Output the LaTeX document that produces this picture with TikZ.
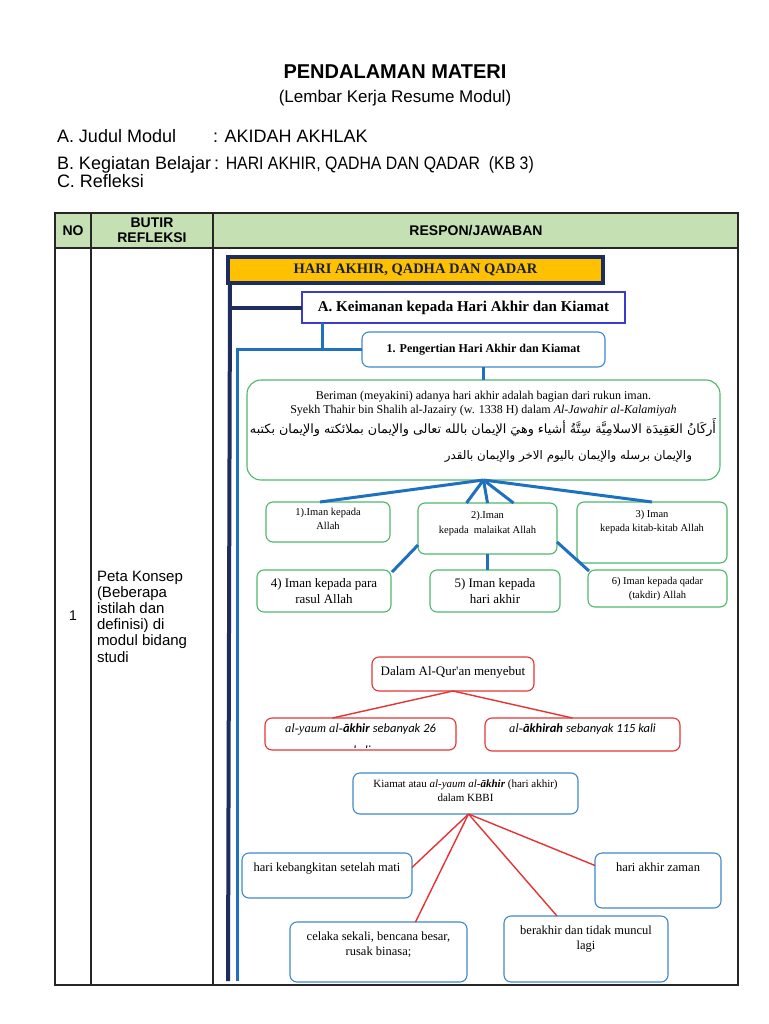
\documentclass[tikz,border=0pt]{standalone}
\usepackage{fontspec}
\usepackage{graphicx}
\setmainfont{Liberation Sans}
\newfontfamily\tnr{Liberation Serif}
\newfontfamily\carl{Carlito}
\newfontfamily\arabicfont[Script=Arabic]{DejaVu Sans}
\TeXXeTstate=1
\definecolor{navy}{HTML}{1C2D5E}
\definecolor{gold}{HTML}{FFC000}
\definecolor{violet}{HTML}{3B3BD0}
\definecolor{bline}{HTML}{2070C0}
\definecolor{bbox}{HTML}{3F88CC}
\definecolor{gbox}{HTML}{4DB86A}
\definecolor{redc}{HTML}{E53333}
\definecolor{hdr}{HTML}{C5E0B3}
\newcommand\cbox[3]{\parbox[c][#2][c]{#1}{\centering #3}}
\newcommand\tbox[4]{\parbox[c][#2][t]{#1}{\centering\vspace*{#3}#4}}
\begin{document}
\begin{tikzpicture}[x=1pt,y=-1pt,
  txt/.style={inner sep=0pt, outer sep=0pt},
  bx/.style={draw, inner sep=0pt, outer sep=0pt, line width=1.1pt, font=\tnr, text=black},
  rbx/.style={bx, rounded corners=7pt},
  gbx/.style={rbx, draw=gbox},
  bbx/.style={rbx, draw=bbox},
  redbx/.style={rbx, draw=redc},
  navyline/.style={draw=navy, line width=4pt},
  blueline/.style={draw=bline, line width=3pt},
  redline/.style={draw=redc, line width=1.4pt},
  tbl/.style={draw=black!85, line width=1.1pt}]
\useasboundingbox (0,0) rectangle (768,1024);
\fill[white] (0,0) rectangle (768,1024);

% page heading
\node[txt, anchor=base, font=\fontsize{20}{24}\selectfont\bfseries] (ttl) at (395,79) {PENDALAMAN MATERI};
\node[txt, anchor=base, font=\fontsize{17}{20}\selectfont] (sub) at (395,103) {(Lembar Kerja Resume Modul)};
\node[txt, anchor=base west, font=\fontsize{18}{20}\selectfont] (la) at (57,143) {A. Judul Modul};
\node[txt, anchor=base west, font=\fontsize{18}{20}\selectfont] (lav) at (213,143) {: AKIDAH AKHLAK};
\node[txt, anchor=base west, font=\fontsize{18}{20}\selectfont] (lb) at (57,170) {B. Kegiatan Belajar\,: \scalebox{0.88}[1]{HARI AKHIR, QADHA DAN QADAR\ \ (KB 3)}};
\node[txt, anchor=base west, font=\fontsize{18}{20}\selectfont] (lc) at (57,188) {C. Refleksi};

% table
\fill[hdr] (55,213) rectangle (738,248);
\draw[tbl] (55,213) rectangle (738,985);
\draw[tbl] (55,248) -- (738,248);
\draw[tbl] (91,213) -- (91,985);
\draw[tbl] (213,213) -- (213,985);
\node[txt, font=\fontsize{14}{15}\selectfont\bfseries] (hno) at (73,230.5) {NO};
\node[txt, align=center, font=\fontsize{14}{15.5}\selectfont\bfseries] (hbut) at (152,230.5) {BUTIR\\REFLEKSI};
\node[txt, font=\fontsize{14}{15}\selectfont\bfseries] (hres) at (476,230.5) {RESPON/JAWABAN};
\node[txt, font=\fontsize{14}{16}\selectfont] (n1) at (73,616) {1};
\node[txt, anchor=west, align=left, font=\fontsize{15}{16.2}\selectfont] (pk) at (97,616.5) {Peta Konsep\\(Beberapa\\istilah dan\\definisi) di\\modul bidang\\studi};

% diagram boxes
\node[bx, draw=navy, line width=4pt, fill=gold] (title) at (415.5,270) {\cbox{375pt}{26pt}{\fontsize{14.5}{16}\selectfont\bfseries\color{navy!70!black}HARI AKHIR, QADHA DAN QADAR}};
\node[bx, draw=violet, line width=1.2pt, fill=white] (ka) at (463.5,307.5) {\cbox{323pt}{31pt}{\fontsize{15}{17}\selectfont\bfseries A. Keimanan kepada Hari Akhir dan Kiamat}};
\node[bbx, fill=white] (p1) at (483.5,349.5) {\cbox{243pt}{35pt}{\fontsize{12}{14}\selectfont\bfseries 1. Pengertian Hari Akhir dan Kiamat}};
\node[gbx, rounded corners=14pt] (gr) at (483.5,430) {\tbox{473pt}{100pt}{11pt}{\fontsize{12}{14}\selectfont
 Beriman (meyakini) adanya hari akhir adalah bagian dari rukun iman.\\
 Syekh Thahir bin Shalih al-Jazairy (w. 1338 H) dalam \textit{Al-Jawahir al-Kalamiyah}\\[2pt]
 \makebox[473pt][r]{\resizebox{466pt}{!}{\arabicfont\beginR أَركَانُ العَقِيدَة الاسلامِيَّة سِتَّةُ أشياء وهيَ الإيمان بالله تعالى والإيمان بملائكته والإيمان بكتبه\endR}\hspace{4pt}}\\[12pt]
 \makebox[473pt][r]{\resizebox{247pt}{!}{\arabicfont\beginR والإيمان برسله والإيمان باليوم الاخر والإيمان بالقدر\endR}\hspace{28pt}}}};

\node[gbx] (b1) at (328,522) {\tbox{124pt}{40pt}{6.5pt}{\fontsize{10.5}{14}\selectfont 1).Iman kepada\\Allah}};
\node[gbx] (b2) at (487.5,528.5) {\tbox{139pt}{51pt}{8.5pt}{\fontsize{10.5}{15}\selectfont 2).Iman\\kepada\ \ malaikat Allah}};
\node[gbx] (b3) at (652,532.5) {\tbox{150pt}{61pt}{8.5pt}{\fontsize{10.5}{14}\selectfont 3) Iman\\kepada kitab-kitab Allah}};
\node[gbx] (b4) at (324,591) {\cbox{134pt}{42pt}{\fontsize{13}{16}\selectfont 4) Iman kepada para\\rasul Allah}};
\node[gbx] (b5) at (495,591) {\cbox{130pt}{42pt}{\fontsize{13}{16}\selectfont 5) Iman kepada\\hari akhir}};
\node[gbx] (b6) at (657.5,588.5) {\cbox{139pt}{37pt}{\fontsize{10.5}{14}\selectfont 6) Iman kepada qadar\\(takdir) Allah}};

\node[redbx] (q) at (453,674) {\cbox{162pt}{34pt}{\fontsize{13}{15}\selectfont Dalam Al-Qur'an menyebut\vspace{3pt}}};
\node[redbx] (r1) at (360.5,734) {\tbox{191pt}{32pt}{5.5pt}{\fontsize{12.5}{15}\selectfont\itshape al-yaum al-{\carl\bfseries ākhir} {\carl sebanyak 26}}};
\begin{scope}
\clip (268,720) rectangle (454,747.5);
\node[txt, font=\carl\fontsize{12.5}{15}\selectfont\itshape] (kali) at (362,750.5) {kali};
\end{scope}
\node[redbx] (r2) at (582.5,734.5) {\tbox{195pt}{33pt}{6pt}{\fontsize{12.5}{15}\selectfont\itshape al-{\carl\bfseries ākhirah} {\carl sebanyak 115 kali}}};

\node[bbx] (k) at (465.5,793.5) {\tbox{225pt}{41pt}{6.5pt}{\fontsize{11}{14}\selectfont Kiamat atau \textit{al-yaum al-\textbf{ākhir}} (hari akhir)\\dalam KBBI}};
\node[bbx] (d1) at (327,875.5) {\tbox{170pt}{45pt}{10pt}{\fontsize{12.5}{15}\selectfont hari kebangkitan setelah mati}};
\node[bbx] (d2) at (658,880.5) {\tbox{126pt}{55pt}{10pt}{\fontsize{12.5}{15}\selectfont hari akhir zaman}};
\node[bbx] (d3) at (378.5,952) {\tbox{177pt}{60pt}{10pt}{\fontsize{12.5}{15}\selectfont celaka sekali, bencana besar,\\rusak binasa;}};
\node[bbx] (d4) at (586,949) {\tbox{164pt}{66pt}{10pt}{\fontsize{12.5}{15}\selectfont berakhir dan tidak muncul\\lagi}};

% connectors
\coordinate (navyend) at (228,981);
\coordinate (blueend) at (237,981);
\coordinate (j1) at (322,349);
\draw[navyline] ([xshift=2pt]title.south west) -- (navyend);
\draw[navyline] (navyend |- ka.west) -- (ka.west);
\draw[blueline] (ka.south -| j1) -- (j1);
\draw[blueline] (blueend) |- (p1.west);
\draw[blueline] (p1.south) -- (gr.north);
\draw[blueline] (gr.south) -- ([xshift=-8pt]b1.north);
\draw[blueline] (gr.south) -- ([xshift=-21pt]b2.north);
\draw[blueline] (gr.south) -- (b2.north);
\draw[blueline] (gr.south) -- ([xshift=26pt]b2.north);
\draw[blueline] (gr.south) -- (b3.north);
\draw[blueline] ([yshift=9pt]b2.south west) -- ([xshift=1pt,yshift=-2pt]b4.north east);
\draw[blueline] (b2.south) -- (b2.south |- b5.north);
\draw[blueline] ([yshift=12pt]b2.south east) -- ([xshift=1pt,yshift=-1pt]b6.north west);

\draw[redline] (q.south) -- ([xshift=-28pt]r1.north);
\draw[redline] (q.south) -- ([xshift=-10pt]r2.north);
\draw[redline] ([xshift=3pt]k.south) -- ([yshift=8pt]d1.east);
\draw[redline] ([xshift=3pt]k.south) -- ([xshift=37pt]d3.north);
\draw[redline] ([xshift=3pt]k.south) -- ([xshift=-29pt]d4.north);
\draw[redline] ([xshift=3pt]k.south) -- ([yshift=15pt]d2.west);
\end{tikzpicture}
\end{document}
